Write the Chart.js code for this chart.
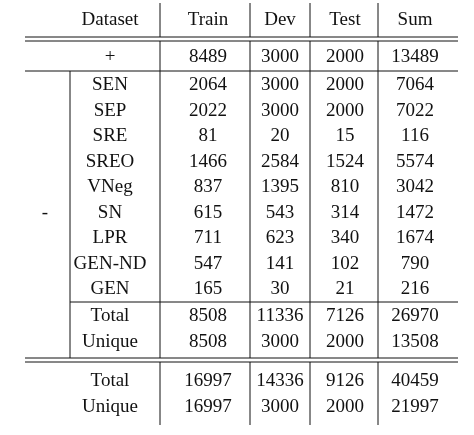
<!DOCTYPE html><html><head><meta charset="utf-8">
<script src="https://cdn.jsdelivr.net/npm/chart.js@4/dist/chart.umd.min.js"></script>
<style>html,body{margin:0;padding:0;background:#fff}</style></head><body>
<canvas id="c" width="474" height="435"></canvas>
<script>
const headers = ["Dataset","Train","Dev","Test","Sum"];
const plusRow = ["+","8489","3000","2000","13489"];
const subsets = ["SEN","SEP","SRE","SREO","VNeg","SN","LPR","GEN-ND","GEN","Total","Unique"];
const train = [2064,2022,81,1466,837,615,711,547,165,8508,8508];
const dev = [3000,3000,20,2584,1395,543,623,141,30,11336,3000];
const test = [2000,2000,15,1524,810,314,340,102,21,7126,2000];
const sum = [7064,7022,116,5574,3042,1472,1674,790,216,26970,13508];
const totals = ["Total","Unique"];
const totTrain = [16997,16997];
const totDev = [14336,3000];
const totTest = [9126,2000];
const totSum = [40459,21997];

// layout in pixel-space units of the scales
const colX = [110,208,280,345,415];
const rowY = [20,57,85,111,136,162,187,213,238,264,289,316,342,381,407];

const tablePlugin = {
  id:'table',
  afterDraw(chart){
    const ctx=chart.ctx, xs=chart.scales.x, ys=chart.scales.y;
    const X=v=>xs.getPixelForValue(v), Y=v=>ys.getPixelForValue(v);
    ctx.save();
    ctx.fillStyle='#111'; ctx.strokeStyle='#111'; ctx.lineWidth=1;
    ctx.font='19px "Liberation Serif", "DejaVu Serif", serif';
    ctx.textAlign='center'; ctx.textBaseline='middle';
    const line=(x1,y1,x2,y2)=>{ctx.beginPath();ctx.moveTo(X(x1),Y(y1));ctx.lineTo(X(x2),Y(y2));ctx.stroke();};
    const rows=[headers,plusRow];
    subsets.forEach((s,i)=>rows.push([s,train[i],dev[i],test[i],sum[i]]));
    totals.forEach((s,i)=>rows.push([s,totTrain[i],totDev[i],totTest[i],totSum[i]]));
    rows.forEach((r,i)=>r.forEach((c,j)=>ctx.fillText(String(c),X(colX[j]),Y(rowY[i]))));
    ctx.fillText('-',X(45),Y(213));
    // horizontal rules
    line(25,37,458,37); line(25,41,458,41);
    line(25,71,458,71);
    line(70,302,458,302);
    line(25,358,458,358); line(25,362,458,362);
    // vertical rules
    [160,250,310,378].forEach(x=>{line(x,3,x,37);line(x,41,x,358);line(x,362,x,425);});
    line(70,71,70,358);
    ctx.restore();
  }
};
new Chart(document.getElementById('c'),{
  type:'scatter',
  data:{datasets:[{data:[],pointRadius:0}]},
  options:{responsive:false,animation:false,events:[],
    layout:{padding:0},
    plugins:{legend:{display:false},tooltip:{enabled:false}},
    scales:{x:{type:'linear',min:0,max:474,display:false},
            y:{type:'linear',min:0,max:435,reverse:true,display:false}}},
  plugins:[tablePlugin]
});
</script></body></html>
